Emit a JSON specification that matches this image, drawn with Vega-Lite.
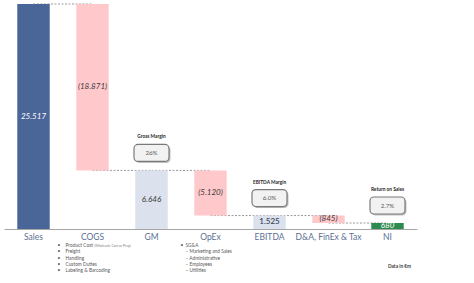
{
  "$schema": "https://vega.github.io/schema/vega-lite/v6.json",
  "autosize": {"type": "none"},
  "padding": {"left": 4, "top": 4, "right": 57, "bottom": 54},
  "width": 413,
  "height": 225,
  "background": "white",
  "config": {"view": {"stroke": null}, "font": "Lato"},
  "datasets": {
    "bars": [
      {"cat": "Sales", "y0": 0, "y1": 25517, "label": "25.517"},
      {"cat": "COGS", "y0": 6646, "y1": 25517, "label": "(18.871)"},
      {"cat": "GM", "y0": 0, "y1": 6646, "label": "6.646"},
      {"cat": "OpEx", "y0": 1525, "y1": 6646, "label": "(5.120)"},
      {"cat": "EBITDA", "y0": 0, "y1": 1525, "label": "1.525"},
      {"cat": "D&A, FinEx & Tax", "y0": 680, "y1": 1525, "label": "(845)"},
      {"cat": "NI", "y0": 0, "y1": 680, "label": "680"}
    ],
    "connectors": [
      {"from": "Sales", "to": "COGS", "level": 25517},
      {"from": "COGS", "to": "GM", "level": 6646},
      {"from": "GM", "to": "OpEx", "level": 6646},
      {"from": "OpEx", "to": "EBITDA", "level": 1525},
      {"from": "EBITDA", "to": "D&A, FinEx & Tax", "level": 1525},
      {"from": "D&A, FinEx & Tax", "to": "NI", "level": 680}
    ],
    "boxes": [
      {"cat": "GM", "top": 6646, "title": "Gross Margin", "pct": "26%"},
      {"cat": "EBITDA", "top": 1525, "title": "EBITDA Margin", "pct": "6.0%"},
      {"cat": "NI", "top": 680, "title": "Return on Sales", "pct": "2.7%"}
    ],
    "notes": [
      {"cat": "COGS", "lines": ["Product Cost", "Freight", "Handling", "Custom Duties", "Labeling & Barcoding"], "bullets": ["•", "•", "•", "•", "•"], "small": "(Wholesale Cost or Prep)"},
      {"cat": "OpEx", "lines": ["SG&A", "– Marketing and Sales", "– Administrative", "– Employees", "– Utilities"], "bullets": ["•"], "small": ""}
    ],
    "footer": [{"cat": "NI", "text": "Data in €m"}]
  },
  "encoding": {
    "x": {
      "field": "cat",
      "type": "nominal",
      "sort": ["Sales", "COGS", "GM", "OpEx", "EBITDA", "D&A, FinEx & Tax", "NI"],
      "scale": {"domain": ["Sales", "COGS", "GM", "OpEx", "EBITDA", "D&A, FinEx & Tax", "NI"], "paddingInner": 0.45, "paddingOuter": 0.225},
      "axis": {"title": null, "ticks": false, "labelAngle": 0, "labelFont": "Lato", "labelFontSize": 8.5, "labelColor": "#5a6f92", "labelPadding": 3, "domainColor": "#a6a6a6", "domainWidth": 1}
    }
  },
  "layer": [
    {
      "data": {"name": "connectors"},
      "mark": {"type": "rule", "color": "#9a9a9a", "strokeDash": [2, 1.5], "strokeWidth": 1},
      "encoding": {
        "x": {"field": "from", "type": "nominal", "sort": ["Sales", "COGS", "GM", "OpEx", "EBITDA", "D&A, FinEx & Tax", "NI"]},
        "x2": {"field": "to"},
        "y": {"field": "level", "type": "quantitative", "scale": {"domain": [0, 25517], "nice": false, "zero": true}, "axis": null}
      }
    },
    {
      "data": {"name": "bars"},
      "mark": {"type": "bar"},
      "encoding": {
        "y": {"field": "y0", "type": "quantitative"},
        "y2": {"field": "y1"},
        "color": {
          "field": "cat", "type": "nominal", "legend": null,
          "scale": {"domain": ["Sales", "COGS", "GM", "OpEx", "EBITDA", "D&A, FinEx & Tax", "NI"],
                    "range": ["#4a6597", "#ffc9cc", "#dbe2ed", "#ffc9cc", "#dbe2ed", "#ffc9cc", "#2e8b50"]}
        }
      }
    },
    {
      "data": {"name": "bars"},
      "transform": [
        {"filter": "datum.cat !== 'EBITDA'"},
        {"fold": ["y0", "y1"], "as": ["k", "v"]}
      ],
      "mark": {"type": "text", "fontStyle": "italic", "fontSize": 8, "font": "Lato"},
      "encoding": {
        "y": {"aggregate": "mean", "field": "v", "type": "quantitative"},
        "text": {"field": "label", "type": "nominal"},
        "color": {"condition": {"test": "datum.cat === 'Sales' || datum.cat === 'NI'", "value": "#ffffff"}, "value": "#3a3a3a"}
      }
    },
    {
      "data": {"name": "bars"},
      "transform": [
        {"filter": "datum.cat === 'EBITDA'"},
        {"fold": ["y0", "y1"], "as": ["k", "v"]}
      ],
      "mark": {"type": "text", "fontSize": 8, "fontWeight": 600, "font": "Lato", "color": "#3d4657"},
      "encoding": {
        "y": {"aggregate": "mean", "field": "v", "type": "quantitative"},
        "text": {"field": "label", "type": "nominal"}
      }
    },
    {
      "data": {"name": "boxes"},
      "mark": {"type": "bar", "width": 35, "cornerRadius": 4, "fill": "#8c8c8c", "opacity": 0.55, "yOffset": -24.5, "y2Offset": -7.5, "xOffset": 1.5},
      "encoding": {
        "y": {"field": "top", "type": "quantitative"},
        "y2": {"field": "top"}
      }
    },
    {
      "data": {"name": "boxes"},
      "mark": {"type": "bar", "width": 35, "cornerRadius": 4, "fill": "#f2f2f2", "stroke": "#7a7a7a", "strokeWidth": 1.2, "yOffset": -26, "y2Offset": -9},
      "encoding": {
        "y": {"field": "top", "type": "quantitative"},
        "y2": {"field": "top"}
      }
    },
    {
      "data": {"name": "boxes"},
      "mark": {"type": "text", "fontSize": 6.2, "color": "#595959", "dy": -17.5, "font": "Lato"},
      "encoding": {
        "y": {"field": "top", "type": "quantitative"},
        "text": {"field": "pct", "type": "nominal"}
      }
    },
    {
      "data": {"name": "boxes"},
      "mark": {"type": "text", "fontSize": 4.8, "fontWeight": "bold", "color": "#262626", "dy": -33, "font": "Lato"},
      "encoding": {
        "y": {"field": "top", "type": "quantitative"},
        "text": {"field": "title", "type": "nominal"}
      }
    },
    {
      "data": {"name": "notes"},
      "transform": [{"filter": "datum.cat === 'COGS'"}],
      "mark": {"type": "text", "align": "left", "baseline": "top", "fontSize": 4.8, "lineHeight": 6.25, "color": "#595959", "dx": -27, "dy": 14, "font": "Lato"},
      "encoding": {
        "y": {"datum": 0, "type": "quantitative"},
        "text": {"field": "lines", "type": "nominal"}
      }
    },
    {
      "data": {"name": "notes"},
      "transform": [{"filter": "datum.cat === 'COGS'"}],
      "mark": {"type": "text", "align": "left", "baseline": "top", "fontSize": 4.8, "lineHeight": 6.25, "color": "#595959", "dx": -35, "dy": 14, "font": "Lato"},
      "encoding": {
        "y": {"datum": 0, "type": "quantitative"},
        "text": {"field": "bullets", "type": "nominal"}
      }
    },
    {
      "data": {"name": "notes"},
      "transform": [{"filter": "datum.cat === 'COGS'"}],
      "mark": {"type": "text", "align": "left", "baseline": "top", "fontSize": 3.4, "color": "#7f7f7f", "dx": 1.5, "dy": 14.8, "font": "Lato"},
      "encoding": {
        "y": {"datum": 0, "type": "quantitative"},
        "text": {"field": "small", "type": "nominal"}
      }
    },
    {
      "data": {"name": "notes"},
      "transform": [{"filter": "datum.cat === 'OpEx'"}],
      "mark": {"type": "text", "align": "left", "baseline": "top", "fontSize": 4.8, "lineHeight": 6.25, "color": "#595959", "dx": -25, "dy": 14, "font": "Lato"},
      "encoding": {
        "y": {"datum": 0, "type": "quantitative"},
        "text": {"field": "lines", "type": "nominal"}
      }
    },
    {
      "data": {"name": "notes"},
      "transform": [{"filter": "datum.cat === 'OpEx'"}],
      "mark": {"type": "text", "align": "left", "baseline": "top", "fontSize": 4.8, "lineHeight": 6.25, "color": "#595959", "dx": -30, "dy": 14, "font": "Lato"},
      "encoding": {
        "y": {"datum": 0, "type": "quantitative"},
        "text": {"field": "bullets", "type": "nominal"}
      }
    },
    {
      "data": {"name": "footer"},
      "mark": {"type": "text", "fontSize": 4.8, "fontWeight": "bold", "color": "#404040", "dx": 12, "dy": 38, "font": "Lato"},
      "encoding": {
        "y": {"datum": 0, "type": "quantitative"},
        "text": {"field": "text", "type": "nominal"}
      }
    }
  ]
}
